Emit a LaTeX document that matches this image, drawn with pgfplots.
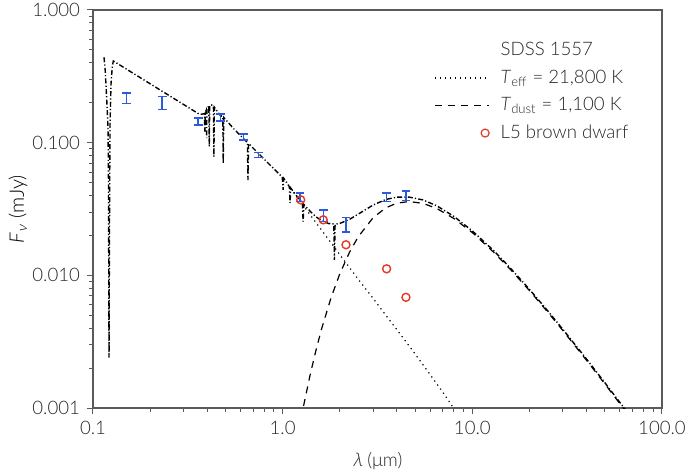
\documentclass[border=0pt]{standalone}
\usepackage{fontspec}
\setmainfont{Lato}[UprightFont=*-Light, ItalicFont=*-LightItalic, BoldFont=*-Regular]
\newfontface\slgreek{Lato-Light}[FakeSlant=0.2]
\usepackage{pgfplots}
\usepackage{pgfplotstable}
\pgfplotsset{compat=1.18}
\definecolor{barblue}{RGB}{45,90,220}
\definecolor{redc}{RGB}{230,55,35}
\definecolor{axgray}{RGB}{90,90,90}
\pgfplotsset{
  legline/.style={legend image code/.code={\draw[##1] (0pt,0pt) -- (#1,0pt);}},
  legcirc/.style={legend image code/.code={\draw[##1] (#1,0pt) circle (2pt);}},
}

\pgfplotstableread{
lam F
0.1143 0.440
0.1160 0.350
0.1180 0.220
0.1200 0.130
0.1207 0.050
0.1210 0.015
0.1215 0.0024
0.1220 0.015
0.1225 0.050
0.1230 0.140
0.1245 0.280
0.1265 0.380
0.1280 0.4127
0.3646 0.1634
0.3800 0.1645
0.3870 0.1660
0.3889 0.1210
0.3905 0.1680
0.3950 0.1750
0.3970 0.1080
0.3990 0.1800
0.4080 0.1890
0.4102 0.0935
0.4125 0.1910
0.4222 0.1924
0.4315 0.1880
0.4340 0.0785
0.4365 0.1850
0.4670 0.1617
0.4835 0.1560
0.4861 0.0698
0.4890 0.1550
0.5490 0.1284
0.6520 0.1003
0.6563 0.0523
0.6610 0.0985
0.7590 0.0808
0.9680 0.0571
0.9950 0.0552
1.0050 0.0441
1.0150 0.0538
1.0850 0.0465
1.0940 0.0352
1.1030 0.0455
1.1850 0.0397
1.2700 0.0352
1.2820 0.0254
1.2940 0.0342
1.4000 0.0303
1.5000 0.0276
1.6000 0.0259
1.7500 0.02455
1.8600 0.0244
1.8750 0.0131
1.8900 0.0243
2.0000 0.0246
2.2500 0.0264
2.5000 0.0289
3.0000 0.0339
3.5000 0.0373
4.0000 0.0389
4.6400 0.0389
5.5000 0.0370
6.5000 0.0334
8.0000 0.0278
10.000 0.0216
13.000 0.0153
16.000 0.0112
20.000 0.00785
25.000 0.00539
30.000 0.00392
40.000 0.00234
50.000 0.00155
60.000 0.00110
65.000 0.00095
}\tabtotal

\pgfplotstableread{
lam F
1.10 0.0452
1.185 0.0392
1.30 0.0328
1.50 0.0249
1.75 0.01854
2.00 0.01435
2.50 0.00935
3.00 0.0067
3.50 0.0050
4.00 0.0039
5.00 0.00255
6.00 0.00178
7.00 0.00131
8.00 0.00099
8.30 0.00092
}\tabwd

\pgfplotstableread{
lam F
1.25 0.00083
1.30 0.00110
1.40 0.00181
1.50 0.00274
1.60 0.00390
1.80 0.00679
2.00 0.01025
2.25 0.0149
2.50 0.0195
3.00 0.0272
3.50 0.0323
4.00 0.0350
4.64 0.0360
5.50 0.03485
6.50 0.0319
8.00 0.0268
10.0 0.0210
13.0 0.01487
16.0 0.01094
20.0 0.00768
25.0 0.00528
30.0 0.00384
40.0 0.00229
50.0 0.001517
60.0 0.001078
65.0 0.000926
}\tabdust

\pgfplotstableread{
lam F ep em
0.1506 0.217 0.019 0.019
0.2315 0.199 0.023 0.021
0.3589 0.145 0.008 0.009
0.4713 0.155 0.010 0.009
0.6198 0.110 0.006 0.005
0.7437 0.081 0.0036 0.0038
1.234 0.0388 0.0029 0.0028
1.637 0.0283 0.0028 0.0028
2.157 0.0241 0.0032 0.0029
3.533 0.0389 0.0030 0.0029
4.467 0.0398 0.0036 0.0033
}\tabobs

\pgfplotstableread{
lam F
1.245 0.0371
1.637 0.0262
2.157 0.0170
3.533 0.0112
4.467 0.00683
}\tabld

\begin{document}
\begin{tikzpicture}
\begin{axis}[
  at={(0pt,0pt)}, anchor=south west,
  scale only axis, width=284.5pt, height=199pt,
  xmode=log, ymode=log,
  xmin=0.1, xmax=100, ymin=0.001, ymax=1,
  xtick={0.1,1,10,100}, xticklabels={0.1,1.0,10.0,100.0},
  ytick={0.001,0.01,0.1,1}, yticklabels={0.001,0.010,0.100,1.000},
  tick align=outside, xtick pos=lower, ytick pos=left,
  major tick length=3pt, minor tick length=2pt,
  axis line style={axgray, line width=0.6pt},
  every tick/.style={axgray, line width=0.5pt},
  tick label style={font=\fontsize{9.3}{10}\selectfont, text=black!85},
  label style={font=\fontsize{9.3}{10}\selectfont, text=black!85},
  xlabel={{\slgreek λ} (μm)},
  ylabel={\textit{F}\textsubscript{\slgreek ν} (mJy)},
  xlabel style={yshift=-2pt},
  every axis y label/.style={at={(axis description cs:-0.132,0.5)}, rotate=90, anchor=center},
  legend style={draw=none, fill=none, at={(0.589,0.94)}, anchor=north west,
    font=\fontsize{9.3}{10}\selectfont, text=black!85, row sep=1.6pt,
    /tikz/every odd column/.append style={column sep=3.5pt}},
  legend cell align=left,
]
\addlegendimage{empty legend}
\addlegendentry{SDSS 1557}
\addlegendimage{black, line width=0.6pt, dash pattern=on 0.6pt off 1.9pt, legline=26pt}
\addlegendentry{\textit{T}\textsubscript{eff} = 21,800 K}
\addlegendimage{black, line width=0.6pt, dash pattern=on 3.5pt off 3pt, legline=27pt}
\addlegendentry{\textit{T}\textsubscript{dust} = 1,100 K}
\addlegendimage{redc, line width=0.6pt, legcirc=25pt}
\addlegendentry{L5 brown dwarf}

\addplot[forget plot, black, line width=0.6pt, dash pattern=on 0.6pt off 1.9pt] table[x=lam,y=F] {\tabwd};
\addplot[forget plot, black, line width=0.6pt, dash pattern=on 3.5pt off 3pt] table[x=lam,y=F] {\tabdust};
\addplot[forget plot, black, line width=0.7pt, dash pattern=on 2.5pt off 1.1pt on 0.6pt off 1.1pt] table[x=lam,y=F] {\tabtotal};
\addplot[forget plot, barblue, only marks, mark=text, text mark={},
  error bars/.cd, y dir=both, y explicit,
  error bar style={barblue, solid, line width=0.75pt},
  error mark options={barblue, solid, rotate=90, mark size=2.2pt, line width=0.75pt}]
  table[x=lam, y=F, y error plus=ep, y error minus=em] {\tabobs};
\addplot[forget plot, only marks, mark=o, mark size=2pt, redc, mark options={line width=0.7pt}] table[x=lam,y=F] {\tabld};
\end{axis}
\pgfresetboundingbox
\path[use as bounding box] (-46.5pt,-31.5pt) rectangle (296pt,204pt);
\end{tikzpicture}
\end{document}
